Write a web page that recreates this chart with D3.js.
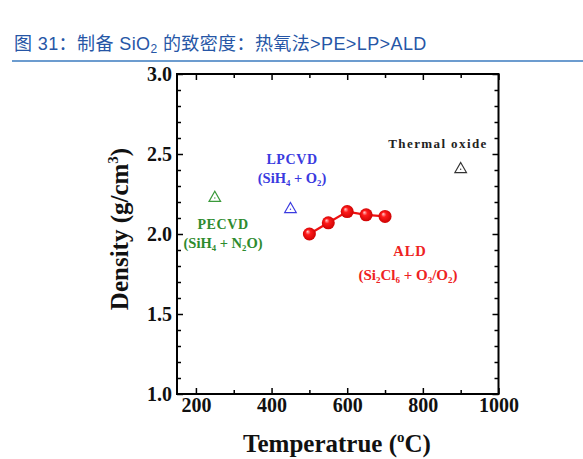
<!DOCTYPE html>
<html><head><meta charset="utf-8">
<script src="https://cdn.jsdelivr.net/npm/d3@7"></script>
<style>body{margin:0;background:#fff}svg{display:block}</style>
</head><body><svg id="c" width="583" height="459"></svg>
<script>
// ---- data ----
const aldTemps = [500, 550, 600, 650, 700];
const aldDensity = [2.0, 2.07, 2.14, 2.12, 2.11];
const refMethods = ["PECVD", "LPCVD", "Thermal oxide"];
const refTemps = [250, 450, 900];
const refDensity = [2.225, 2.155, 2.405];
const refColors = ["#3a9a3a", "#3a3ae0", "#333333"];
const xTicks = [200, 400, 600, 800, 1000];
const xMinor = [300, 500, 700, 900];
const yTicks = [1.0, 1.5, 2.0, 2.5, 3.0];
const yMinor = [1.1,1.2,1.3,1.4,1.6,1.7,1.8,1.9,2.1,2.2,2.3,2.4,2.6,2.7,2.8,2.9];

const svg = d3.select("#c");
const W = 583, H = 459;
const L = 177, R = 498.5, T = 74, B = 394;
const x = d3.scaleLinear().domain([150, 1000]).range([L, R]);
const y = d3.scaleLinear().domain([1.0, 3.0]).range([B, T]);
const serif = "'Liberation Serif','Times New Roman',serif";

// title
svg.append("text").attr("x", 14).attr("y", 50)
  .attr("font-family", "'Liberation Sans','Noto Sans CJK SC',sans-serif")
  .attr("font-size", 18).attr("letter-spacing", 0.4).attr("fill", "#2656a6")
  .call(t => {
    t.append("tspan").text("图 31：制备 SiO");
    t.append("tspan").attr("font-size", 12).attr("dy", 3).text("2");
    t.append("tspan").attr("dy", -3).text(" 的致密度：热氧法>PE>LP>ALD");
  });
svg.append("line").attr("x1", 12).attr("x2", W).attr("y1", 61).attr("y2", 61)
  .attr("stroke", "#3b7bbf").attr("stroke-width", 1.3);

// defs: sphere gradient
const defs = svg.append("defs");
const g = defs.append("radialGradient").attr("id", "sph")
  .attr("cx", "50%").attr("cy", "50%").attr("r", "55%").attr("fx", "35%").attr("fy", "30%");
g.append("stop").attr("offset", "0%").attr("stop-color", "#ffd0d0");
g.append("stop").attr("offset", "35%").attr("stop-color", "#ff1a1a");
g.append("stop").attr("offset", "100%").attr("stop-color", "#c80000");

// axes
function styleAxis(sel) {
  sel.selectAll("path").remove();
  sel.selectAll("line").attr("stroke", "#000").attr("stroke-width", 1.5);
  sel.selectAll("text").attr("font-family", serif).attr("font-weight", "bold")
    .attr("font-size", 20).attr("fill", "#111");
}
svg.append("g").attr("transform", `translate(0,${B})`)
  .call(d3.axisBottom(x).tickValues(xTicks).tickFormat(d3.format("d")).tickSizeInner(-6).tickSizeOuter(0).tickPadding(4))
  .call(styleAxis);
svg.append("g").attr("transform", `translate(0,${B})`)
  .call(d3.axisBottom(x).tickValues(xMinor).tickFormat("").tickSizeInner(-4).tickSizeOuter(0))
  .call(styleAxis);
svg.append("g").attr("transform", `translate(0,${T})`)
  .call(d3.axisTop(x).tickValues(xTicks).tickFormat("").tickSizeInner(-6).tickSizeOuter(0))
  .call(styleAxis);
svg.append("g").attr("transform", `translate(0,${T})`)
  .call(d3.axisTop(x).tickValues(xMinor).tickFormat("").tickSizeInner(-4).tickSizeOuter(0))
  .call(styleAxis);
svg.append("g").attr("transform", `translate(${L},0)`)
  .call(d3.axisLeft(y).tickValues(yTicks).tickFormat(d3.format(".1f")).tickSizeInner(-6).tickSizeOuter(0).tickPadding(5))
  .call(styleAxis);
svg.append("g").attr("transform", `translate(${L},0)`)
  .call(d3.axisLeft(y).tickValues(yMinor).tickFormat("").tickSizeInner(-4).tickSizeOuter(0))
  .call(styleAxis);
svg.append("g").attr("transform", `translate(${R},0)`)
  .call(d3.axisRight(y).tickValues(yTicks).tickFormat("").tickSizeInner(-6).tickSizeOuter(0))
  .call(styleAxis);
svg.append("g").attr("transform", `translate(${R},0)`)
  .call(d3.axisRight(y).tickValues(yMinor).tickFormat("").tickSizeInner(-4).tickSizeOuter(0))
  .call(styleAxis);

svg.append("rect").attr("x", L).attr("y", T).attr("width", R - L).attr("height", B - T)
  .attr("fill", "none").attr("stroke", "#000").attr("stroke-width", 2);

// axis labels
svg.append("text").attr("x", 337).attr("y", 452).attr("text-anchor", "middle")
  .attr("font-family", serif).attr("font-weight", "bold").attr("font-size", 25).attr("fill", "#111")
  .call(t => {
    t.append("tspan").text("Temperatrue (");
    t.append("tspan").attr("font-size", 15).attr("dy", -10).text("o");
    t.append("tspan").attr("dy", 10).text("C)");
  });
svg.append("text").attr("transform", "translate(128,229) rotate(-90)").attr("text-anchor", "middle")
  .attr("font-family", serif).attr("font-weight", "bold").attr("font-size", 25).attr("fill", "#111")
  .call(t => {
    t.append("tspan").text("Density (g/cm");
    t.append("tspan").attr("font-size", 15).attr("dy", -10).text("3");
    t.append("tspan").attr("dy", 10).text(")");
  });

// ALD line + spheres
const ald = aldTemps.map((t, i) => ({t, d: aldDensity[i]}));
svg.append("path").datum(ald)
  .attr("d", d3.line().x(d => x(d.t)).y(d => y(d.d)))
  .attr("fill", "none").attr("stroke", "#ee1111").attr("stroke-width", 2.2);
svg.selectAll("circle.ald").data(ald).join("circle").attr("class", "ald")
  .attr("cx", d => x(d.t)).attr("cy", d => y(d.d)).attr("r", 6.5)
  .attr("fill", "url(#sph)");

// reference triangles
const refs = refMethods.map((m, i) => ({m, t: refTemps[i], d: refDensity[i], c: refColors[i]}));
svg.selectAll("path.tri").data(refs).join("path").attr("class", "tri")
  .attr("transform", d => `translate(${x(d.t)},${y(d.d)})`)
  .attr("d", d3.symbol(d3.symbolTriangle, 58)())
  .attr("fill", "none").attr("stroke", d => d.c).attr("stroke-width", 1.2);
svg.selectAll("circle.dot").data(refs).join("circle").attr("class", "dot")
  .attr("cx", d => x(d.t)).attr("cy", d => y(d.d)).attr("r", 0.7).attr("fill", d => d.c);

// annotations
function label(xp, yp, color, parts, size, ls) {
  const t = svg.append("text").attr("x", xp).attr("y", yp).attr("text-anchor", "middle")
    .attr("font-family", serif).attr("font-weight", "bold").attr("font-size", size)
    .attr("letter-spacing", ls).attr("fill", color);
  let prevSub = false;
  parts.forEach(p => {
    if (typeof p === "string") {
      const s = t.append("tspan").text(p);
      if (prevSub) s.attr("dy", -3);
      prevSub = false;
    } else {
      t.append("tspan").attr("font-size", size * 0.6).attr("dy", prevSub ? 0 : 3).text(p.sub);
      prevSub = true;
    }
  });
  return t;
}
label(438, 148, "#222", ["Thermal oxide"], 13, 1.4);
label(292, 164, "#3a3ae0", ["LPCVD"], 14, 0.6);
label(292, 183, "#3a3ae0", ["(SiH", {sub: "4"}, " + O", {sub: "2"}, ")"], 14.5, 0);
label(223, 229, "#2e8b2e", ["PECVD"], 14, 0.6);
label(223, 248, "#2e8b2e", ["(SiH", {sub: "4"}, " + N", {sub: "2"}, "O)"], 14.5, 0);
label(410, 256, "#ee2222", ["ALD"], 14.5, 1);
label(408, 280, "#ee2222", ["(Si", {sub: "2"}, "Cl", {sub: "6"}, " + O", {sub: "3"}, "/O", {sub: "2"}, ")"], 15, 0);
</script></body></html>
